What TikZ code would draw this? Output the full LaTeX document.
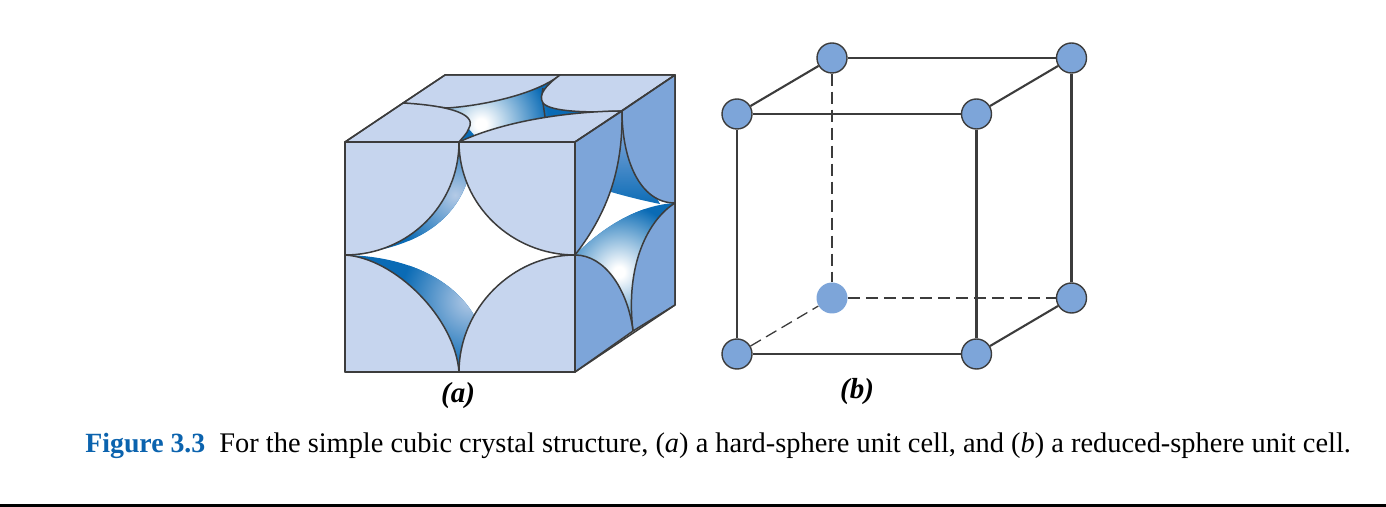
\documentclass[tikz,border=0pt]{standalone}
\usepackage{fontspec}
\setmainfont{Liberation Serif}
\definecolor{facelight}{HTML}{C6D5EE}
\definecolor{facedark}{HTML}{7DA5D9}
\definecolor{voidblue}{HTML}{0A6BB5}
\definecolor{voidpale}{HTML}{B4CAE6}
\definecolor{edgegray}{HTML}{3C3C3C}
\definecolor{capblue}{HTML}{0B63AE}
\pgfdeclareradialshading{voidglow}{\pgfpointorigin}{color(0bp)=(white); color(2bp)=(white); color(25bp)=(voidblue); color(50bp)=(voidblue)}
\pgfdeclareradialshading{voiddim}{\pgfpointorigin}{color(0bp)=(voidpale); color(25bp)=(voidblue); color(50bp)=(voidblue)}
\tikzset{
  celledge/.style={draw=edgegray,line width=0.75pt,line join=round},
  atom/.style={circle,draw=edgegray,fill=facedark,line width=0.7pt,minimum size=15pt,inner sep=0pt},
  atomhidden/.style={circle,fill=facedark,minimum size=15.5pt,inner sep=0pt},
  bond/.style={draw=edgegray,line width=1.05pt},
  bondhidden/.style={draw=edgegray,line width=0.65pt,dash pattern=on 6pt off 3pt},
  sublabel/.style={font=\bfseries\itshape\fontsize{14.5}{15}\selectfont,inner sep=0pt,anchor=base},
  captext/.style={font=\fontsize{14.2}{15}\selectfont,inner sep=0pt,anchor=base west}
}
\begin{document}
\begin{tikzpicture}[x=0.5pt,y=-0.5pt]
\useasboundingbox(0,0)rectangle(1386,507);
%top face, void
\begin{scope}
\clip(345,142)--(575,142)--(675,75)--(445,75)--cycle;
\fill[voidblue](345,75)rectangle(675,142);
\shade[shading=voidglow](481,124)circle(68);
\fill[voidblue](459,142)--(468,128)--(475,136)--cycle;
\end{scope}
\draw[celledge](543,88) .. controls (541,96) and (544,108) .. (545,117);
%top face, quarter spheres
\draw[celledge,fill=facelight](445,75)--(560,75) .. controls (535,95) and (480,106) .. (447,108)--(403,103)--cycle;
\draw[celledge,fill=facelight](675,75)--(560,75) .. controls (545,86) and (538,95) .. (543,103) .. controls (550,112) and (590,113) .. (622,111)--cycle;
\draw[celledge,fill=facelight](345,142)--(403,103) .. controls (440,105) and (478,112) .. (469,128) .. controls (467,134) and (462,138) .. (459,142)--cycle;
\draw[celledge,fill=facelight](575,142)--(622,111) .. controls (590,111) and (515,116) .. (459,142)--cycle;
%front face, blue slivers
\begin{scope}
\clip(459,142) .. controls (462,150) and (464,170) .. (467,182) .. controls (452,225) and (410,250) .. (345,255)--(345,142)--cycle;
\fill[voidblue](345,142)rectangle(470,256);
\shade[shading=voiddim](455,195)circle(65);
\end{scope}
\begin{scope}
\clip(345,255) .. controls (400,256) and (450,275) .. (474,315) .. controls (465,335) and (459,350) .. (459,372)--(345,372)--cycle;
\fill[voidblue](345,255)rectangle(475,372);
\shade[shading=voiddim](470,300)circle(70);
\end{scope}
\fill[voidblue](575,255) .. controls (550,255) and (525,263) .. (507,278)--(520,285)--(575,260)--cycle;
%front face, quarter spheres
\draw[celledge,fill=facelight](345,142)--(459,142) .. controls (459,205) and (408,255) .. (345,255)--cycle;
\draw[celledge,fill=facelight](575,142)--(459,142) .. controls (459,205) and (512,255) .. (575,255)--cycle;
\draw[celledge,fill=facelight](345,372)--(345,255) .. controls (395,258) and (455,318) .. (459,372)--cycle;
\draw[celledge,fill=facelight](575,372)--(575,255) .. controls (512,255) and (459,309) .. (459,372)--cycle;
%right face, voids
\begin{scope}
\clip(622,130)--(660,204) .. controls (640,200) and (625,196) .. (611,192)--(600,192)--(600,130)--cycle;
\shade[top color=facedark,bottom color=voidblue](600,130)rectangle(665,206);
\end{scope}
\begin{scope}
\clip(675,203) .. controls (640,205) and (605,225) .. (575,255)--(633,330)--cycle;
\fill[voidblue](575,203)rectangle(675,330);
\shade[shading=voidglow](619,272)circle(68);
\end{scope}
%right face, quarter spheres
\draw[celledge,fill=facedark](575,142)--(622,111) .. controls (623,165) and (610,210) .. (575,255)--cycle;
\draw[celledge,fill=facedark](675,75)--(622,111) .. controls (622,160) and (640,203) .. (675,203)--cycle;
\draw[celledge,fill=facedark](675,305)--(675,203) .. controls (648,220) and (625,265) .. (633,331)--cycle;
\draw[celledge,fill=facedark](575,372)--(575,255) .. controls (605,255) and (628,290) .. (633,331)--cycle;
%cube outline
\draw[celledge](345,142)--(575,142)--(575,372)--(345,372)--cycle;
\draw[celledge](345,142)--(445,75)--(675,75)--(675,305)--(575,372);
\draw[celledge](575,142)--(675,75);
\node[sublabel](laba)at(458,402){(a)};
%reduced sphere cell
\pgfmathsetmacro{\kx}{239.5}
\pgfmathsetmacro{\ky}{240}
\pgfmathsetmacro{\kdx}{95}
\pgfmathsetmacro{\kdy}{56}
\node[atom](fbl)at(737,354){};
\node[atom](fbr)at(737+\kx,354){};
\node[atom](ftl)at(737,354-\ky){};
\node[atom](ftr)at(737+\kx,354-\ky){};
\node[atomhidden](bbl)at(737+\kdx,354-\kdy){};
\node[atom](bbr)at(737+\kx+\kdx,354-\kdy){};
\node[atom](btl)at(737+\kdx,354-\ky-\kdy){};
\node[atom](btr)at(737+\kx+\kdx,354-\ky-\kdy){};
\draw[bond](fbl)--(fbr);
\draw[bond](ftl)--(ftr);
\draw[bond](fbl)--(ftl);
\draw[bond](fbr)--(ftr);
\draw[bond](btl)--(btr);
\draw[bond](btr)--(bbr);
\draw[bond](ftl)--(btl);
\draw[bond](ftr)--(btr);
\draw[bond](fbr)--(bbr);
%hidden edges
\draw[bondhidden](btl)--(bbl);
\draw[bondhidden](bbl)--(bbr);
\draw[bondhidden](fbl)--(bbl);
\node[sublabel](labb)at(857,399){(b)};
%caption and rule
\node[captext,font=\bfseries\fontsize{13.9}{15}\selectfont,text=capblue](capnum)at(85,452){Figure 3.3};
\node[captext](captxt)at(219,452){For the simple cubic crystal structure, (\textit{a}) a hard-sphere unit cell, and (\textit{b}) a reduced-sphere unit cell.};
\coordinate(rulel)at(0,505.5);
\coordinate(ruler)at(1386,505.5);
\draw[line width=1.2pt](rulel)--(ruler);
\end{tikzpicture}
\end{document}
